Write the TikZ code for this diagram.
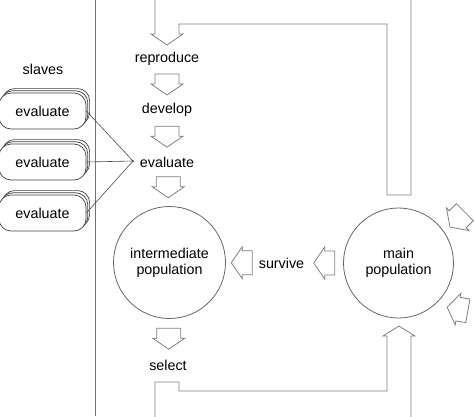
\documentclass[tikz,border=0pt]{standalone}
\usepackage{fontspec}
\setmainfont{Liberation Sans}
\usetikzlibrary{calc,shadows}

\tikzset{
  txt/.style={font=\fontsize{14.3}{16}\selectfont, inner sep=1pt, align=center},
  popcircle/.style={txt, circle, draw=black!60, line width=0.8pt, inner sep=0pt},
  evalbox/.style={txt, draw=black!75, fill=white, line width=0.7pt,
    rounded corners=12pt, minimum width=87pt, minimum height=36pt,
    general shadow={shadow xshift=3.6pt, shadow yshift=4.4pt, fill=white, draw=black!75},
    general shadow={shadow xshift=1.8pt, shadow yshift=2.2pt, fill=white, draw=black!75}},
  bigarrow/.style={draw=black!50, line width=0.8pt},
  harrow/.pic={
    \draw[bigarrow, fill=white] (-10.5,-12) -- (-0.5,-12) -- (-0.5,-16) -- (10.5,0)
      -- (-0.5,16) -- (-0.5,12) -- (-10.5,12) -- cycle;
  }
}

\begin{document}
\begin{tikzpicture}[x=1pt, y=-1pt]
  \useasboundingbox (0,0) rectangle (474,416);
  \clip (0,0) rectangle (474,416);

  % slaves | master
  \draw[black!55, line width=0.8pt] (95,0) -- (95,416);

  % slaves
  \node[txt] (slaves) at (43,69) {slaves};
  \node[evalbox] (slave1) at (42.5,111) {evaluate};
  \node[evalbox] (slave2) at (42.5,162) {evaluate};
  \node[evalbox] (slave3) at (42.5,213) {evaluate};

  % master steps
  \node[txt] (reproduce) at (167,59) {reproduce};
  \node[txt] (develop) at (167,110) {develop};
  \node[txt] (evaluate) at (167,162) {evaluate};
  \node[popcircle, minimum size=112pt] (inter) at (169.5,262.5) {intermediate\\population};
  \node[txt] (select) at (168,365) {select};
  \node[txt] (survive) at (281.5,263) {survive};
  \node[popcircle, minimum size=110pt] (main) at (398.5,263) {main\\population};

  % slaves report to evaluate
  \coordinate (hub) at (133,161);
  \foreach \s in {slave1,slave2,slave3}
    \draw[black!70, line width=0.6pt] (\s.east) -- (hub);
  \fill[black!70] (hub) circle (1.2pt);

  % small hollow arrows
  \pic[rotate=-90] at ($(reproduce.south)!0.5!(develop.north)$) {harrow};
  \pic[rotate=-90] at ($(develop.south)!0.5!(evaluate.north)$) {harrow};
  \pic[rotate=-90] at ($(evaluate.south)!0.5!(inter.north)$) {harrow};
  \pic[rotate=-90] at ($(inter.south)!0.5!(select.north)$) {harrow};
  \pic[rotate=180] at ($(survive.west)!0.5!(inter.east)$) {harrow};
  \pic[rotate=180] at ($(main.west)!0.5!(survive.east)$) {harrow};
  \pic[rotate=225] at (457.4,219.6) {harrow};
  \pic[rotate=170] at (457.5,309) {harrow};

  % main population back to reproduce
  \draw[bigarrow] (155,-5) -- (155,34) -- (151,34) -- (167,45) -- (183,34) -- (179,34)
    -- (179,24) -- (387,24) -- (387,195) -- (411,195) -- (411,-5);
  % select into main population
  \draw[bigarrow] (155,421) -- (155,382) -- (179,382) -- (179,391) -- (387,391)
    -- (387,336) -- (383,336) -- (399,326) -- (415,336) -- (411,336) -- (411,421);
\end{tikzpicture}
\end{document}
